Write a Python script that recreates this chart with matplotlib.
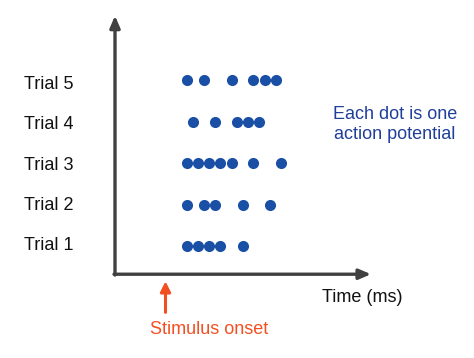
import matplotlib
matplotlib.use("Agg")
import matplotlib.pyplot as plt

plt.rcParams['font.family'] = ['Liberation Sans', 'DejaVu Sans']

# Spike times (ms) for each trial
trial_labels = ["Trial 1", "Trial 2", "Trial 3", "Trial 4", "Trial 5"]
trial_1 = [145, 167, 189, 211, 256]
trial_2 = [145, 179, 201, 256, 311]
trial_3 = [145, 167, 189, 211, 234, 277, 333]
trial_4 = [157, 200, 244, 267, 289]
trial_5 = [145, 179, 234, 277, 300, 323]
spikes = [trial_1, trial_2, trial_3, trial_4, trial_5]
stimulus_onset = 101

DOT = "#1a4fa6"
AXIS = "#404040"
RED = "#f25022"
TEXT_BLUE = "#1f3f9a"
FS = 13

fig = plt.figure(figsize=(4.74, 3.58), dpi=100)
ax = fig.add_axes([0, 0, 1, 1])
ax.set_xlim(-230, 718)
ax.set_ylim(-1.699, 6.928)
ax.axis("off")

for i, times in enumerate(spikes, start=1):
    ax.plot(times, [i] * len(times), "o", color=DOT, markersize=8.0, markeredgewidth=0)
    ax.text(-84, 1.0 + (i - 1) * 0.975, trial_labels[i - 1], ha="right", va="center",
            fontsize=FS, color="#111111")

y0 = 0.32
x0 = 0
# axes with arrows
ax.annotate("", xy=(x0, 6.55), xytext=(x0, y0 - 0.02),
            arrowprops=dict(arrowstyle="-|>,head_length=0.7,head_width=0.3", color=AXIS, lw=2.4, shrinkA=0, shrinkB=0))
ax.annotate("", xy=(512, y0), xytext=(x0 - 2, y0),
            arrowprops=dict(arrowstyle="-|>,head_length=0.7,head_width=0.3", color=AXIS, lw=2.4, shrinkA=0, shrinkB=0))

# stimulus arrow
ax.annotate("", xy=(stimulus_onset, 0.15), xytext=(stimulus_onset, -0.6),
            arrowprops=dict(arrowstyle="-|>,head_length=0.6,head_width=0.3", color=RED, lw=2.2, shrinkA=0, shrinkB=0))
ax.text(188, -1.02, "Stimulus onset", ha="center", va="center", fontsize=FS, color=RED)
ax.text(494, -0.25, "Time (ms)", ha="center", va="center", fontsize=FS, color="#111111")
ax.text(560, 3.93, "Each dot is one\naction potential", ha="center", va="center",
        fontsize=FS, color=TEXT_BLUE, linespacing=1.22)

fig.savefig("out.png", dpi=100, facecolor="white")
